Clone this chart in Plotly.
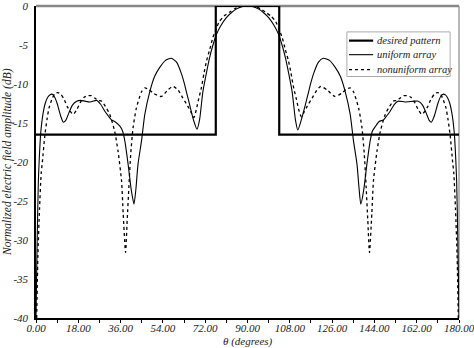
import plotly.graph_objects as go

# desired pattern
desired_theta = [0, 76.5, 76.5, 103.5, 103.5, 180]
desired_db = [-16.5, -16.5, 0, 0, -16.5, -16.5]

# uniform array (solid)
uniform_theta = [0.0, 0.5, 1.0, 1.4, 2.0, 3.0, 4.0, 5.0, 5.9, 6.8, 7.8, 9.0, 10.5, 11.6, 12.6, 14.0,
                 15.5, 17.3, 19.0, 20.8, 23.0, 25.8, 27.5, 29.3, 30.8, 32.1, 33.5, 35.7, 36.8, 37.8,
                 39.2, 40.6, 41.7, 42.5, 43.4, 44.9, 46.3, 48.4, 50.5, 52.6, 55.0, 57.6, 59.8, 61.8,
                 63.0, 64.0, 65.5, 67.0, 68.5, 69.6, 71.0, 72.5, 73.8, 75.3, 76.7, 78.5, 81.0, 83.0,
                 85.2, 87.5, 90.0,
                 92.5, 94.8, 97.0, 99.0, 101.5, 103.3, 104.7, 106.2, 107.5, 109.0, 110.4, 111.4,
                 112.9, 114.5, 116.0, 117.0, 118.2, 120.2, 122.2, 125.0, 127.4, 129.5, 131.6, 133.7,
                 135.1, 136.6, 137.5, 138.2, 139.4, 140.8, 142.2, 143.2, 144.3, 146.0, 147.9, 149.2,
                 150.7, 152.5, 154.0, 157.0, 160.9, 162.7, 164.5, 166.0, 167.4, 168.2, 169.5, 171.0,
                 172.2, 173.4, 174.2, 175.0, 176.0, 177.0, 178.0, 178.6, 179.0, 179.5, 180.0]
uniform_db = [-40, -30, -22.5, -19.5, -16.3, -13.8, -12.4, -11.7, -11.4, -11.3, -11.6, -12.5, -14.1,
              -14.9, -14.7, -13.7, -12.7, -12.2, -12.1, -12.2, -12.3, -12.1, -12.6, -13.5, -14.1,
              -14.6, -14.8, -15.4, -16.0, -17.3, -20.3, -23.7, -25.4, -23.5, -20.3, -17.3, -13.9,
              -11.0, -9.0, -7.9, -7.0, -6.7, -7.2, -8.6, -9.8, -11.0, -12.8, -14.6, -15.8, -14.6,
              -11.0, -8.6, -6.7, -5.0, -3.7, -2.6, -1.5, -0.9, -0.4, -0.1, 0.0,
              -0.1, -0.4, -0.9, -1.5, -2.6, -3.7, -5.0, -6.7, -8.6, -11.0, -14.6, -15.9, -14.6,
              -12.8, -11.0, -9.8, -8.6, -7.2, -6.7, -7.0, -7.9, -9.0, -11.0, -13.9, -17.3, -20.3,
              -23.5, -25.4, -23.7, -20.3, -17.3, -16.0, -15.5, -14.8, -14.6, -14.1, -13.5, -12.6,
              -12.2, -12.3, -12.2, -12.2, -12.7, -13.7, -14.7, -14.9, -14.1, -12.5, -11.6, -11.3,
              -11.4, -11.7, -12.4, -13.8, -16.3, -19.5, -22.5, -30, -40]

# nonuniform array (dotted)
nonuniform_theta = [0.3, 0.8, 1.5, 2.2, 2.7, 3.8, 4.7, 5.6, 7.0, 8.1, 9.3, 10.5, 12.0, 13.5, 15.8,
                    17.5, 19.0, 20.5, 22.0, 23.6, 25.0, 26.5, 27.9, 30.0, 31.4, 33.5, 34.9, 36.4,
                    37.1, 38.1, 38.8, 39.5, 40.3, 41.3, 42.7, 44.9, 46.3, 48.0, 50.0, 53.3, 56.0,
                    58.3, 60.5, 62.5, 64.5, 66.1, 67.2, 68.2, 69.3, 70.3, 71.5, 72.6, 73.9, 75.3,
                    76.7, 78.0, 80.0, 82.3, 84.5, 86.5, 90.0,
                    93.5, 95.5, 97.7, 100.0, 102.0, 103.3, 104.7, 106.1, 107.4, 108.5, 109.7, 110.7,
                    111.8, 112.9, 113.9, 115.5, 117.5, 119.5, 121.2, 124.0, 127.2, 130.0, 132.0,
                    133.7, 135.1, 137.3, 138.7, 139.7, 140.5, 141.2, 141.9, 142.9, 143.6, 145.1,
                    146.5, 148.6, 150.0, 152.1, 153.5, 155.0, 156.4, 158.0, 159.5, 161.0, 162.5,
                    164.2, 166.5, 168.0, 169.5, 170.7, 171.9, 173.0, 174.4, 175.3, 176.2, 177.3,
                    177.8, 178.5, 179.2, 179.7]
nonuniform_db = [-40, -32, -26, -21.5, -20.0, -16.5, -14.5, -13.0, -11.8, -11.2, -11.1, -11.3, -12.0,
                 -13.0, -13.9, -13.2, -12.3, -11.7, -11.5, -11.5, -11.8, -12.1, -12.2, -13.1, -13.9,
                 -16.1, -18.6, -22.4, -26.6, -31.6, -27.5, -23.3, -19.0, -15.6, -13.1, -11.0, -10.5,
                 -10.7, -11.2, -11.6, -10.8, -10.3, -10.8, -11.8, -12.8, -13.7, -14.3, -13.3, -11.8,
                 -10.6, -8.6, -7.0, -5.6, -4.0, -2.9, -2.0, -1.3, -0.8, -0.35, -0.1, 0.0,
                 -0.1, -0.35, -0.8, -1.3, -2.0, -2.9, -4.0, -5.6, -7.0, -8.6, -10.6, -11.8, -13.3,
                 -14.2, -13.7, -12.8, -11.8, -10.8, -10.3, -10.8, -11.6, -11.2, -10.7, -10.5, -11.0,
                 -13.1, -15.6, -19.0, -23.3, -27.5, -31.6, -26.6, -22.4, -18.6, -16.1, -13.9, -13.1,
                 -12.2, -12.1, -11.8, -11.5, -11.5, -11.7, -12.3, -13.2, -13.9, -13.0, -12.0, -11.3,
                 -11.1, -11.2, -11.8, -13.0, -14.5, -16.5, -20.0, -21.5, -26, -32, -40]

x_tickvals = [0, 18, 36, 54, 72, 90, 108, 126, 144, 162, 180]
x_ticktext = ["0.00", "18.00", "36.00", "54.00", "72.00", "90.00", "108.00", "126.00", "144.00",
              "162.00", "180.00"]
y_tickvals = [0, -5, -10, -15, -20, -25, -30, -35, -40]
y_ticktext = ["0", "-5", "-10", "-15", "-20", "-25", "-30", "-35", "-40"]

legend_names = ["desired pattern", "uniform array", "nonuniform array"]
x_title = "θ (degrees)"
y_title = "Normalized electric field amplitude (dB)"

FONT = "Liberation Serif, Times New Roman, serif"

fig = go.Figure()
fig.add_trace(go.Scatter(x=desired_theta, y=desired_db, mode="lines", name=legend_names[0],
                         line=dict(color="black", width=2.2), showlegend=False))
fig.add_trace(go.Scatter(x=uniform_theta, y=uniform_db, mode="lines", name=legend_names[1],
                         line=dict(color="black", width=1.1, shape="spline", smoothing=0.6),
                         showlegend=False))
fig.add_trace(go.Scatter(x=nonuniform_theta, y=nonuniform_db, mode="lines", name=legend_names[2],
                         line=dict(color="black", width=1.3, dash="dot", shape="spline", smoothing=0.6),
                         showlegend=False))

fig.update_layout(
    width=474, height=348,
    margin=dict(l=36, r=15, t=6, b=30),
    paper_bgcolor="white", plot_bgcolor="white",
    font=dict(family=FONT, size=11, color="#222", style="italic"),
    showlegend=False,
)
fig.update_xaxes(range=[0, 180], tickvals=x_tickvals, ticktext=x_ticktext,
                 showgrid=False, zeroline=False, showline=True, linecolor="black", linewidth=1.5,
                 ticks="outside", ticklen=3, tickcolor="black", automargin=False,
                 ticklabeloverflow="allow", ticklabelstandoff=-4,
                 minor=dict(dtick=9, tick0=0, ticks="outside", ticklen=3, tickcolor="black"),
                 tickfont=dict(family=FONT, size=11, style="italic"))
fig.update_yaxes(range=[-40, 0], tickvals=y_tickvals, ticktext=y_ticktext,
                 showgrid=False, zeroline=False, showline=True, linecolor="black", linewidth=1.5,
                 ticks="", ticklabelstandoff=4, automargin=False,
                 ticklabeloverflow="allow",
                 tickfont=dict(family=FONT, size=11, style="italic"))

# axis titles
fig.add_annotation(xref="paper", yref="paper", x=0.5, y=0, yshift=-23, text=x_title,
                   showarrow=False, xanchor="center", yanchor="middle",
                   font=dict(family=FONT, size=11, style="italic", color="#222"))
fig.add_annotation(xref="paper", yref="paper", x=0, xshift=-29, y=0.5, text=y_title,
                   showarrow=False, xanchor="center", yanchor="middle", textangle=-90,
                   font=dict(family=FONT, size=11.5, style="italic", color="#222"))

# gray frame on top and right
fig.add_shape(type="line", xref="paper", yref="paper", x0=0, x1=1, y0=1, y1=1,
              line=dict(color="#888", width=2.5), layer="below")
fig.add_shape(type="line", xref="paper", yref="paper", x0=1, x1=1, y0=0, y1=1,
              line=dict(color="#888", width=1.2), layer="below")

# legend box, drawn by hand to match the compact original
fig.add_shape(type="rect", xref="paper", yref="paper", x0=0.735, x1=0.979, y0=0.774, y1=0.917,
              line=dict(color="#aaa", width=1), fillcolor="white", layer="above")
legend_rows = [0.889, 0.844, 0.796]
legend_styles = [dict(color="black", width=2.2), dict(color="black", width=1.1),
                 dict(color="black", width=1.3, dash="dot")]
for name, yy, st in zip(legend_names, legend_rows, legend_styles):
    fig.add_shape(type="line", xref="paper", yref="paper", x0=0.740, x1=0.797, y0=yy, y1=yy,
                  line=st, layer="above")
    fig.add_annotation(xref="paper", yref="paper", x=0.801, y=yy, text=name, showarrow=False,
                       xanchor="left", yanchor="middle",
                       font=dict(family=FONT, size=10.5, style="italic", color="#222"))

fig.write_html("out.html")
